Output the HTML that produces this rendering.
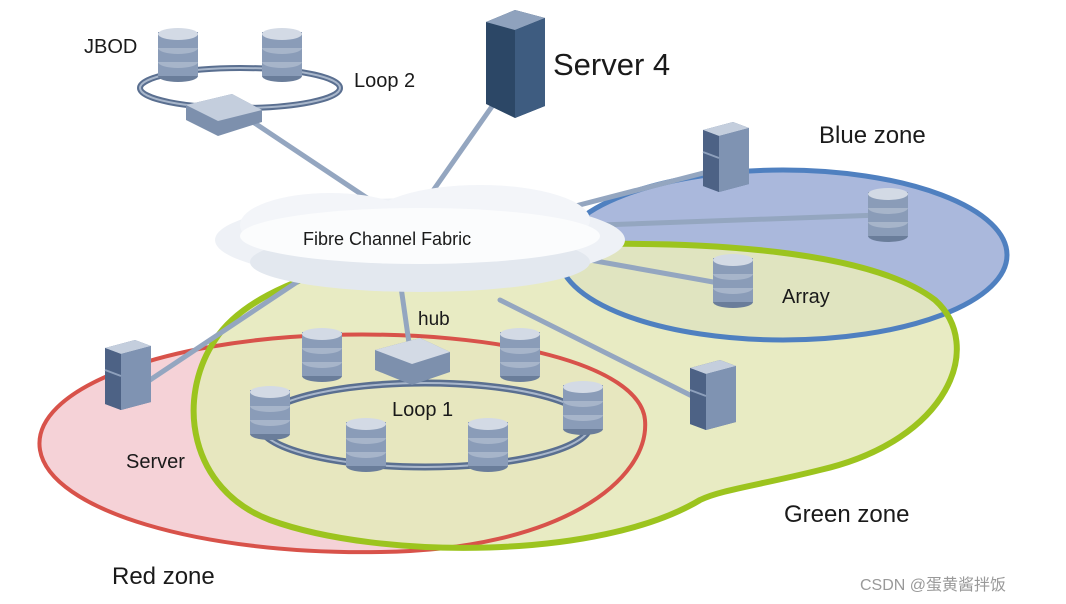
<!DOCTYPE html>
<html><head><meta charset="utf-8"><style>
html,body{margin:0;padding:0;background:#fff;}
svg{display:block;}
text{font-family:"Liberation Sans","Noto Sans CJK SC",sans-serif;fill:#1a1a1a;}
</style></head><body>
<svg width="1066" height="604" viewBox="0 0 1066 604" xmlns="http://www.w3.org/2000/svg">
<defs>
<g id="disk">
  <rect x="-20" y="0" width="40" height="44" fill="#7d90ad"/>
  <ellipse cx="0" cy="44" rx="20" ry="6" fill="#6a7d9a"/>
  <rect x="-20" y="30" width="40" height="14" fill="#8a9cb8"/>
  <ellipse cx="0" cy="30" rx="20" ry="6" fill="#a7b5ca"/>
  <rect x="-20" y="16" width="40" height="14" fill="#8a9cb8"/>
  <ellipse cx="0" cy="16" rx="20" ry="6" fill="#a7b5ca"/>
  <rect x="-20" y="2" width="40" height="14" fill="#8a9cb8"/>
  <ellipse cx="0" cy="2" rx="20" ry="6" fill="#d3dae5"/>
</g>
<g id="server">
  <polygon points="0,8 30,0 46,6 46,62 16,70 0,64" fill="#5d7396"/>
  <polygon points="0,8 30,0 46,6 16,14" fill="#c4cedd"/>
  <polygon points="16,14 46,6 46,62 16,70" fill="#7f93b2"/>
  <polygon points="0,8 16,14 16,70 0,64" fill="#4d6285"/>
  <line x1="0" y1="30" x2="16" y2="36" stroke="#8ea0bc" stroke-width="2"/>
</g>
<path id="green" d="M215,340 C260,270 420,240 560,245 C700,240 870,250 935,300 C985,345 950,440 820,470 C760,485 720,490 700,500 C600,560 380,560 270,520 C190,490 175,400 215,340 Z"/>
<path id="red" d="M40,450 C30,390 160,340 330,335 C500,330 640,365 645,420 C650,480 560,550 380,552 C200,555 50,510 40,450 Z"/>
</defs>

<!-- blue zone fill -->
<ellipse cx="783" cy="255" rx="224" ry="85" fill="#aab8dc"/>
<!-- red fill -->
<use href="#red" fill="#f5d2d7"/>
<!-- green fill -->
<use href="#green" fill="#e6e9bd" fill-opacity="0.9"/>
<!-- strokes -->
<ellipse cx="783" cy="255" rx="224" ry="85" fill="none" stroke="#4f80c0" stroke-width="5"/>
<use href="#red" fill="none" stroke="#d8524a" stroke-width="4"/>
<use href="#green" fill="none" stroke="#9cc41e" stroke-width="6"/>

<!-- connector lines -->
<g stroke="#94a6c0" stroke-width="5" stroke-linecap="round">
  <line x1="250" y1="120" x2="370" y2="200"/>
  <line x1="500" y1="95" x2="430" y2="195"/>
  <line x1="560" y1="210" x2="715" y2="170"/>
  <line x1="600" y1="225" x2="880" y2="215"/>
  <line x1="590" y1="260" x2="730" y2="285"/>
  <line x1="400" y1="280" x2="410" y2="350"/>
  <line x1="500" y1="300" x2="700" y2="400"/>
  <line x1="300" y1="280" x2="150" y2="380"/>
</g>

<!-- Loop 2 -->
<ellipse cx="240" cy="88" rx="100" ry="20" fill="none" stroke="#5a6f90" stroke-width="6"/>
<ellipse cx="240" cy="88" rx="100" ry="20" fill="none" stroke="#a9b7cb" stroke-width="2"/>
<use href="#disk" x="178" y="32"/>
<use href="#disk" x="282" y="32"/>
<polygon points="186,105 232,94 262,110 262,122 218,136 186,120" fill="#7d90ad"/>
<polygon points="186,105 232,94 262,110 218,121" fill="#c4cedd"/>

<!-- Server 4 -->
<polygon points="486,22 515,10 545,18 545,106 515,118 486,104" fill="#2c4766"/>
<polygon points="486,22 515,10 545,18 515,30" fill="#8fa2bd"/>
<polygon points="515,30 545,18 545,106 515,118" fill="#3e5c80"/>

<!-- blue zone devices -->
<use href="#server" x="703" y="122"/>
<use href="#disk" x="888" y="192"/>
<use href="#disk" x="733" y="258"/>

<!-- cloud -->
<g>
<ellipse cx="420" cy="240" rx="205" ry="42" fill="#eef1f6"/>
<ellipse cx="330" cy="225" rx="90" ry="32" fill="#f3f5f9"/>
<ellipse cx="480" cy="220" rx="110" ry="35" fill="#f3f5f9"/>
<ellipse cx="420" cy="262" rx="170" ry="30" fill="#e3e8ef"/>
<ellipse cx="420" cy="236" rx="180" ry="28" fill="#fbfcfd"/>
</g>

<!-- Loop 1 -->
<ellipse cx="425" cy="425" rx="165" ry="42" fill="none" stroke="#5a6f90" stroke-width="7"/>
<ellipse cx="425" cy="425" rx="165" ry="42" fill="none" stroke="#a9b7cb" stroke-width="2"/>
<use href="#disk" x="322" y="332"/>
<use href="#disk" x="520" y="332"/>
<use href="#disk" x="270" y="390"/>
<use href="#disk" x="583" y="385"/>
<use href="#disk" x="366" y="422"/>
<use href="#disk" x="488" y="422"/>
<polygon points="375,350 420,338 450,352 450,372 412,385 375,370" fill="#7d90ad"/>
<polygon points="375,350 420,338 450,352 412,364" fill="#d3dae5"/>

<!-- servers -->
<use href="#server" x="105" y="340"/>
<use href="#server" x="690" y="360"/>

<!-- labels -->
<text x="84" y="53" font-size="20">JBOD</text>
<text x="354" y="87" font-size="20">Loop 2</text>
<text x="553" y="75" font-size="31">Server 4</text>
<text x="819" y="143" font-size="24">Blue zone</text>
<text x="303" y="245" font-size="18">Fibre Channel Fabric</text>
<text x="782" y="303" font-size="20">Array</text>
<text x="418" y="325" font-size="19">hub</text>
<text x="392" y="416" font-size="20">Loop 1</text>
<text x="126" y="468" font-size="20">Server</text>
<text x="784" y="522" font-size="24">Green zone</text>
<text x="112" y="584" font-size="24">Red zone</text>
<text x="860" y="590" font-size="16" style="fill:#999">CSDN @蛋黄酱拌饭</text>
</svg>
</body></html>
